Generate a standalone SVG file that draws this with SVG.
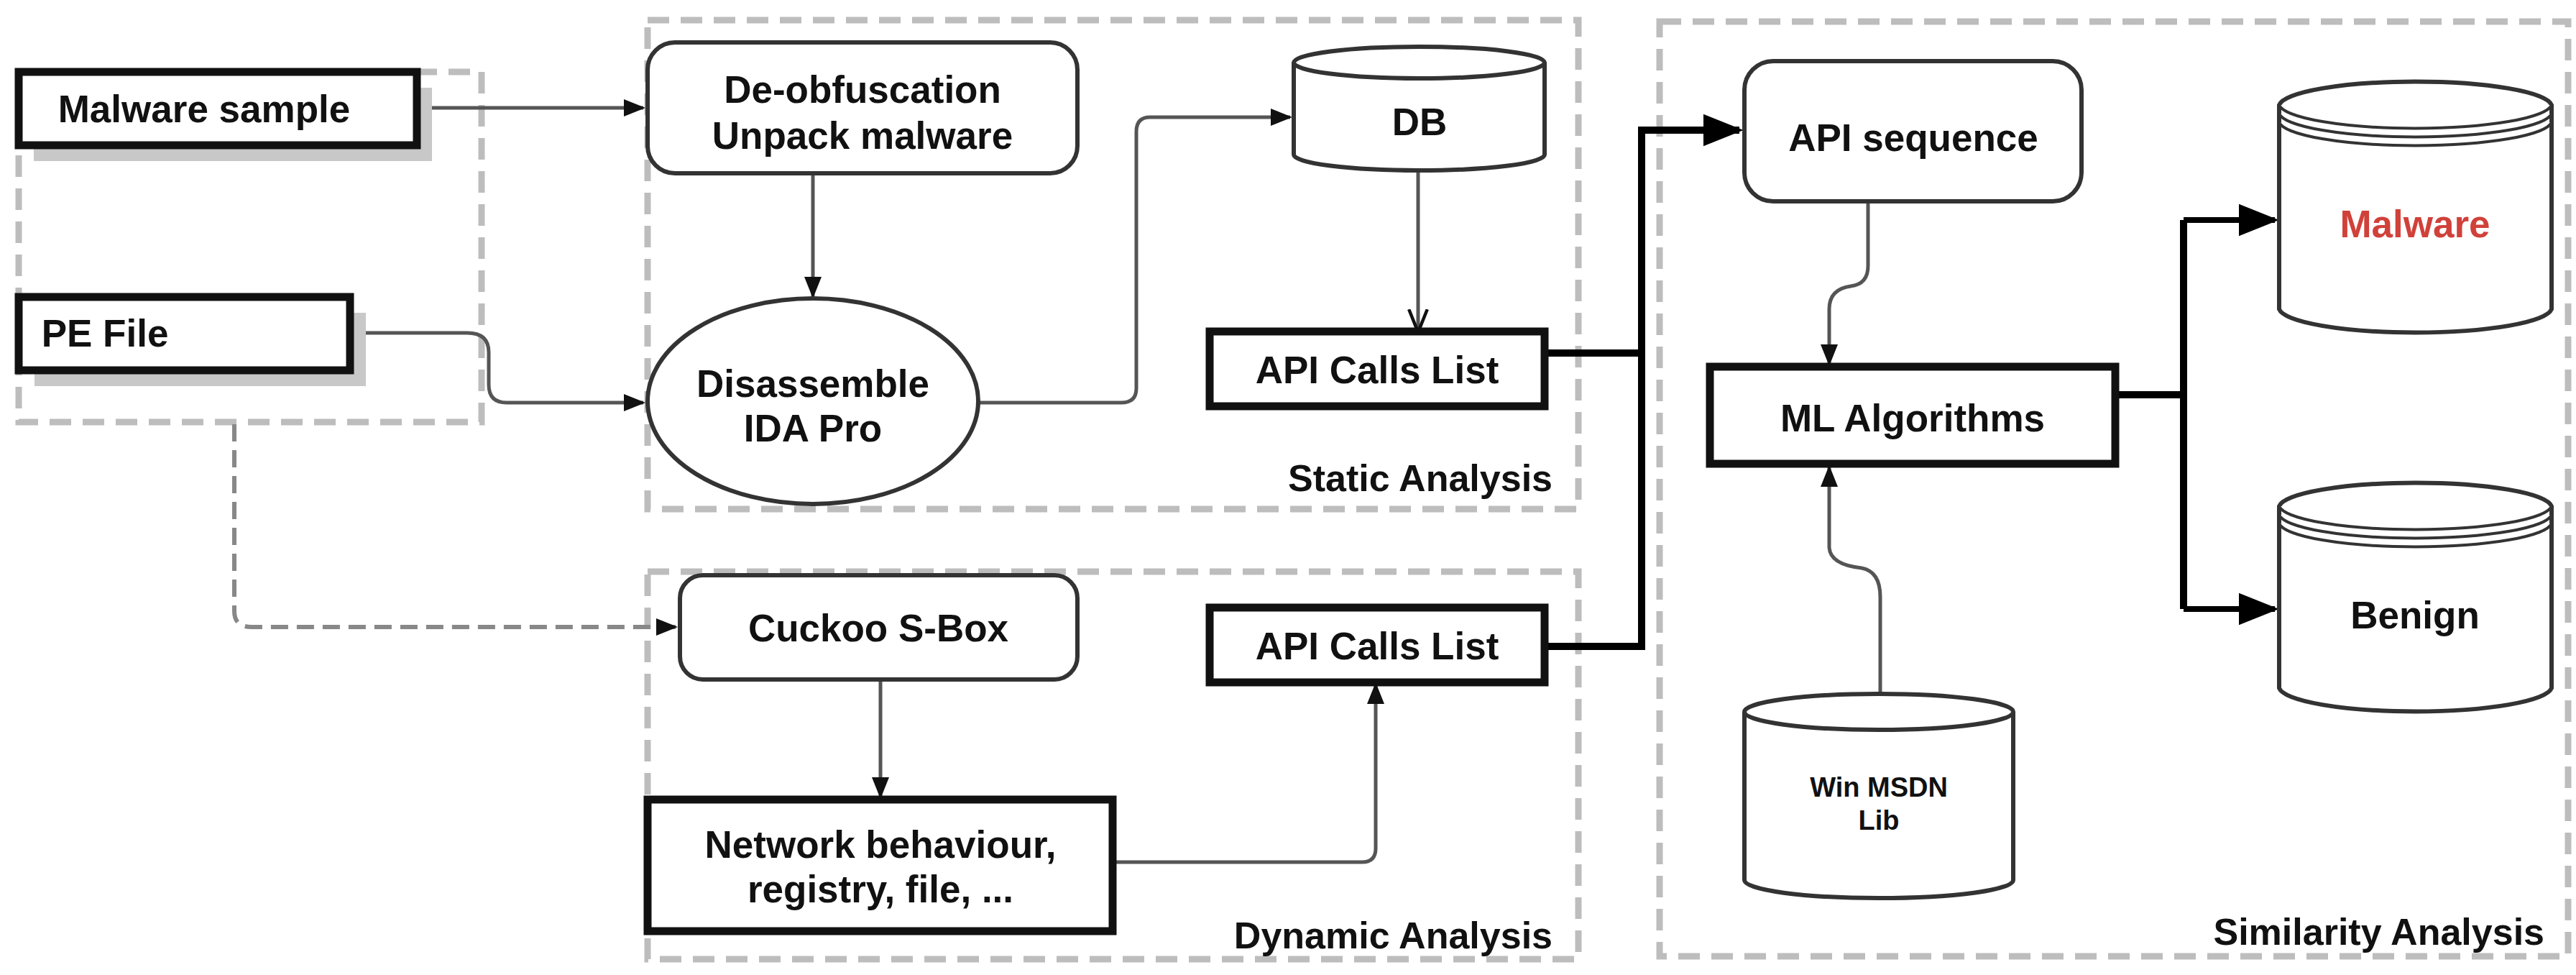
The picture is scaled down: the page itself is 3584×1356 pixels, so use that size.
<svg xmlns="http://www.w3.org/2000/svg" width="3584" height="1356" viewBox="0 0 3584 1356">
<style>
.grp{fill:none;stroke:#bdbdbd;stroke-width:9;stroke-dasharray:30 16}
.box{fill:#fff;stroke:#333;stroke-width:6}
.tbox{fill:#fff;stroke:#111;stroke-width:11}
.sh{fill:#c8c8c8}
text{font-family:"Liberation Sans",Arial,sans-serif;font-weight:bold;font-size:53px;fill:#111;text-anchor:middle}
.lbl{text-anchor:end;font-size:52px}
.c{fill:none;stroke:#555;stroke-width:5}
.k{fill:none;stroke:#000;stroke-width:10}
</style>
<defs>
<marker id="am" viewBox="0 0 10 10" refX="9" refY="5" markerWidth="30" markerHeight="30" orient="auto" markerUnits="userSpaceOnUse"><path d="M0,1L10,5L0,9z" fill="#111"/></marker>
<marker id="ab" viewBox="0 0 10 10" refX="9" refY="5" markerWidth="56" markerHeight="56" orient="auto" markerUnits="userSpaceOnUse"><path d="M0,1L10,5L0,9z" fill="#000"/></marker>
<marker id="ao" viewBox="0 0 10 10" refX="9" refY="5" markerWidth="32" markerHeight="32" orient="auto" markerUnits="userSpaceOnUse"><path d="M0,1L10,5L0,9" fill="none" stroke="#111" stroke-width="1.4"/></marker>
</defs>
<g id="groups">
<rect class="grp" x="26" y="100" width="644" height="487"/>
<rect class="grp" x="901" y="28" width="1295" height="680"/>
<rect class="grp" x="901" y="795" width="1295" height="539"/>
<rect class="grp" x="2309" y="30" width="1264" height="1300"/>
<text class="lbl" x="2160" y="683">Static Analysis</text>
<text class="lbl" x="2160" y="1319">Dynamic Analysis</text>
<text class="lbl" x="3540" y="1314">Similarity Analysis</text>
</g>
<g id="connectors">
<path class="c" d="M580,150H895" marker-end="url(#am)"/>
<path class="c" d="M487,463H650Q680,463 680,490V535Q680,560 705,560H895" marker-end="url(#am)"/>
<path class="c" d="M1131,241V412" marker-end="url(#am)"/>
<path class="c" d="M1361,560H1560Q1581,560 1581,540V183Q1581,163 1600,163H1795" marker-end="url(#am)"/>
<path class="c" d="M1973,237V459" marker-end="url(#ao)"/>
<path d="M326,590V850Q326,872 350,872H940" fill="none" stroke="#888" stroke-width="6" stroke-dasharray="24 12" marker-end="url(#am)"/>
<path class="c" d="M1225,945V1108" marker-end="url(#am)"/>
<path class="c" d="M1548,1199H1895Q1914,1199 1914,1180V952" marker-end="url(#am)"/>
<path class="k" d="M2149,491H2284M2149,899H2284V181H2420" marker-end="url(#ab)"/>
<path class="c" d="M2599,282V370Q2599,395 2575,398Q2545,402 2545,430V506" marker-end="url(#am)"/>
<path class="c" d="M2616,963V830Q2616,795 2590,790Q2545,785 2545,760V650" marker-end="url(#am)"/>
<path class="k" d="M2943,549H3038M3038,306V847" stroke-width="8"/>
<path d="M3038,306H3165" fill="none" stroke="#000" stroke-width="8" marker-end="url(#ab)"/>
<path d="M3038,847H3165" fill="none" stroke="#000" stroke-width="8" marker-end="url(#ab)"/>
</g>
<g id="malware-sample"><rect class="sh" x="47" y="122" width="554" height="102"/><rect class="tbox" x="26" y="100" width="554" height="102"/><text x="284" y="170">Malware sample</text></g>
<g id="pe-file"><rect class="sh" x="48" y="435" width="461" height="102"/><rect class="tbox" x="26" y="413" width="461" height="102"/><text x="146" y="482">PE File</text></g>
<g id="deobf"><rect class="box" x="901" y="59" width="598" height="182" rx="38"/><text x="1200" y="143">De-obfuscation</text><text x="1200" y="207">Unpack malware</text></g>
<g id="disassemble"><ellipse class="box" cx="1131" cy="558" rx="230" ry="143"/><text x="1131" y="552">Disassemble</text><text x="1131" y="614">IDA Pro</text></g>
<g id="db"><path class="box" d="M1800,87A174,22 0 0 1 2149,87V215A174,22 0 0 1 1800,215Z"/><path class="box" d="M1800,87A174,22 0 0 0 2149,87"/><text x="1975" y="188">DB</text></g>
<g id="api-static"><rect class="tbox" x="1683" y="461" width="466" height="104"/><text x="1916" y="533">API Calls List</text></g>
<g id="cuckoo"><rect class="box" x="946" y="800" width="553" height="145" rx="32"/><text x="1222" y="892">Cuckoo S-Box</text></g>
<g id="api-dynamic"><rect class="tbox" x="1683" y="845" width="466" height="104"/><text x="1916" y="917">API Calls List</text></g>
<g id="network"><rect class="tbox" x="901" y="1112" width="647" height="183"/><text x="1225" y="1193">Network behaviour,</text><text x="1225" y="1255">registry, file, ...</text></g>
<g id="api-seq"><rect class="box" x="2427" y="85" width="469" height="195" rx="40"/><text x="2662" y="210">API sequence</text></g>
<g id="ml"><rect class="tbox" x="2379" y="510" width="564" height="135"/><text x="2661" y="600">ML  Algorithms</text></g>
<g id="msdn"><path class="box" d="M2427,990A187,25 0 0 1 2801,990V1224A187,25 0 0 1 2427,1224Z"/><path class="box" d="M2427,990A187,25 0 0 0 2801,990"/><text x="2614" y="1108" style="font-size:38px">Win MSDN</text><text x="2614" y="1154" style="font-size:38px">Lib</text></g>
<g id="malware"><path class="box" d="M3171,146A190,35 0 0 1 3550,146V430A190,35 0 0 1 3171,430Z"/><path class="box" d="M3171,146A190,35 0 0 0 3550,146M3171,158A190,35 0 0 0 3550,158M3171,170A190,35 0 0 0 3550,170" style="stroke-width:4"/><text x="3360" y="330" style="fill:#d0413a">Malware</text></g>
<g id="benign"><path class="box" d="M3171,704A190,35 0 0 1 3550,704V957A190,35 0 0 1 3171,957Z"/><path class="box" d="M3171,704A190,35 0 0 0 3550,704M3171,716A190,35 0 0 0 3550,716M3171,728A190,35 0 0 0 3550,728" style="stroke-width:4"/><text x="3360" y="874">Benign</text></g>
</svg>
